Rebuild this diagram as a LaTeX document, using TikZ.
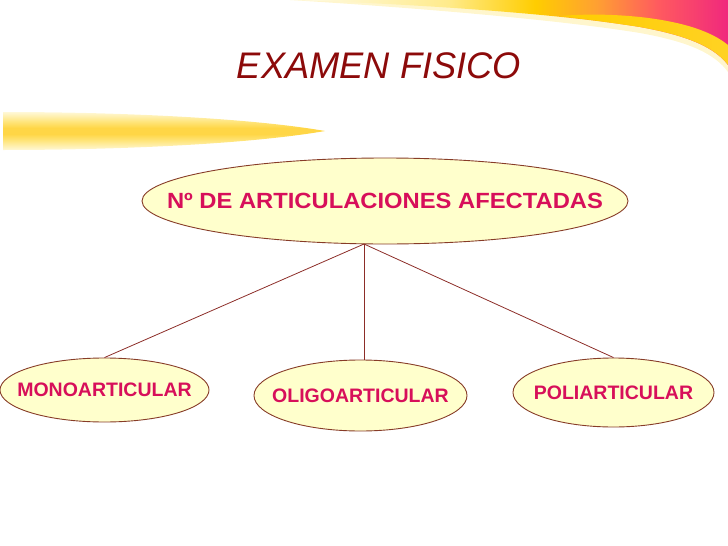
\documentclass[tikz,border=0pt]{standalone}
\usepackage{fontspec}
\setmainfont{Liberation Sans}
\usetikzlibrary{shapes.geometric}
\definecolor{titlered}{RGB}{140,10,10}
\definecolor{txtpink}{RGB}{215,15,90}
\definecolor{elfill}{RGB}{255,255,204}
\definecolor{eldraw}{RGB}{135,60,40}
\definecolor{linecol}{RGB}{140,45,40}
\definecolor{sw0}{RGB}{255,252,235}
\definecolor{sw1}{RGB}{255,235,140}
\definecolor{sw2}{RGB}{255,205,0}
\definecolor{sw3}{RGB}{255,160,50}
\definecolor{sw4}{RGB}{255,90,95}
\definecolor{sw5}{RGB}{240,40,125}
\definecolor{halo}{RGB}{255,246,205}
\definecolor{streakpale}{RGB}{255,248,215}
\definecolor{streakmid}{RGB}{255,228,120}
\definecolor{streakgold}{RGB}{255,214,70}
\definecolor{bandyel}{RGB}{255,210,35}
\pgfdeclarehorizontalshading{swooshshade}{100bp}{color(0bp)=(sw0); color(25bp)=(sw0); color(43bp)=(sw1); color(53bp)=(sw2); color(60bp)=(sw3); color(67bp)=(sw4); color(75bp)=(sw5); color(100bp)=(sw5)}
\pgfdeclareverticalshading{streakshade}{100bp}{color(0bp)=(streakpale); color(25bp)=(streakpale); color(38bp)=(streakmid); color(46bp)=(streakgold); color(54bp)=(streakgold); color(62bp)=(streakmid); color(75bp)=(streakpale); color(100bp)=(streakpale)}
\begin{document}
\begin{tikzpicture}[x=1pt,y=-1pt,
  bubble/.style={ellipse, draw=eldraw, line width=0.9pt, fill=elfill, inner sep=0pt, text=txtpink, font=\bfseries\fontsize{19.5}{21}\selectfont},
  link/.style={draw=linecol, line width=0.8pt}]
\useasboundingbox (0,0) rectangle (728,546);
% decorative swoosh (top right)
\fill[halo] (290,0) -- (728,0) -- (728,72) .. controls (715,54) and (690,42) .. (640,33) .. controls (560,20) and (420,8) .. (290,0) -- cycle;
\shade[shading=swooshshade] (290,0) -- (728,0) -- (728,65) .. controls (715,48) and (690,36) .. (640,27) .. controls (560,14) and (420,4) .. (290,0) -- cycle;
\shade[left color=sw2, right color=bandyel] (560,16) .. controls (600,21) and (620,24) .. (640,27) .. controls (690,36) and (715,48) .. (728,65) -- (728,45) .. controls (712,32) and (685,22) .. (640,17) .. controls (610,14) and (585,14) .. (560,16) -- cycle;
% decorative streak (left)
\shade[shading=streakshade] (3,112) .. controls (120,112) and (250,118) .. (325,131) .. controls (250,144) and (120,150) .. (3,150) -- cycle;
% title
\node[text=titlered, font=\itshape\fontsize{37}{40}\selectfont, inner sep=0pt] (title) at (379,66) {\scalebox{0.98}[1]{EXAMEN FISICO}};
% nodes
\node[bubble, minimum width=486pt, minimum height=86pt] (top) at (385,201) {\makebox[0pt]{\fontsize{22}{24}\selectfont\scalebox{1.08}[1]{Nº DE ARTICULACIONES AFECTADAS}}};
\node[bubble, minimum width=209pt, minimum height=64pt] (mono) at (104.5,390) {\makebox[0pt]{MONOARTICULAR}};
\node[bubble, minimum width=213pt, minimum height=71pt] (oligo) at (360.5,395.5) {\makebox[0pt]{OLIGOARTICULAR}};
\node[bubble, minimum width=201pt, minimum height=69pt] (poli) at (613.5,392.5) {\makebox[0pt]{POLIARTICULAR}};
% connectors
\coordinate (hub) at (364,244);
\draw[link] (hub) -- (mono.north);
\draw[link] (hub) -- (hub |- oligo.north);
\draw[link] (hub) -- (poli.north);
\end{tikzpicture}
\end{document}
